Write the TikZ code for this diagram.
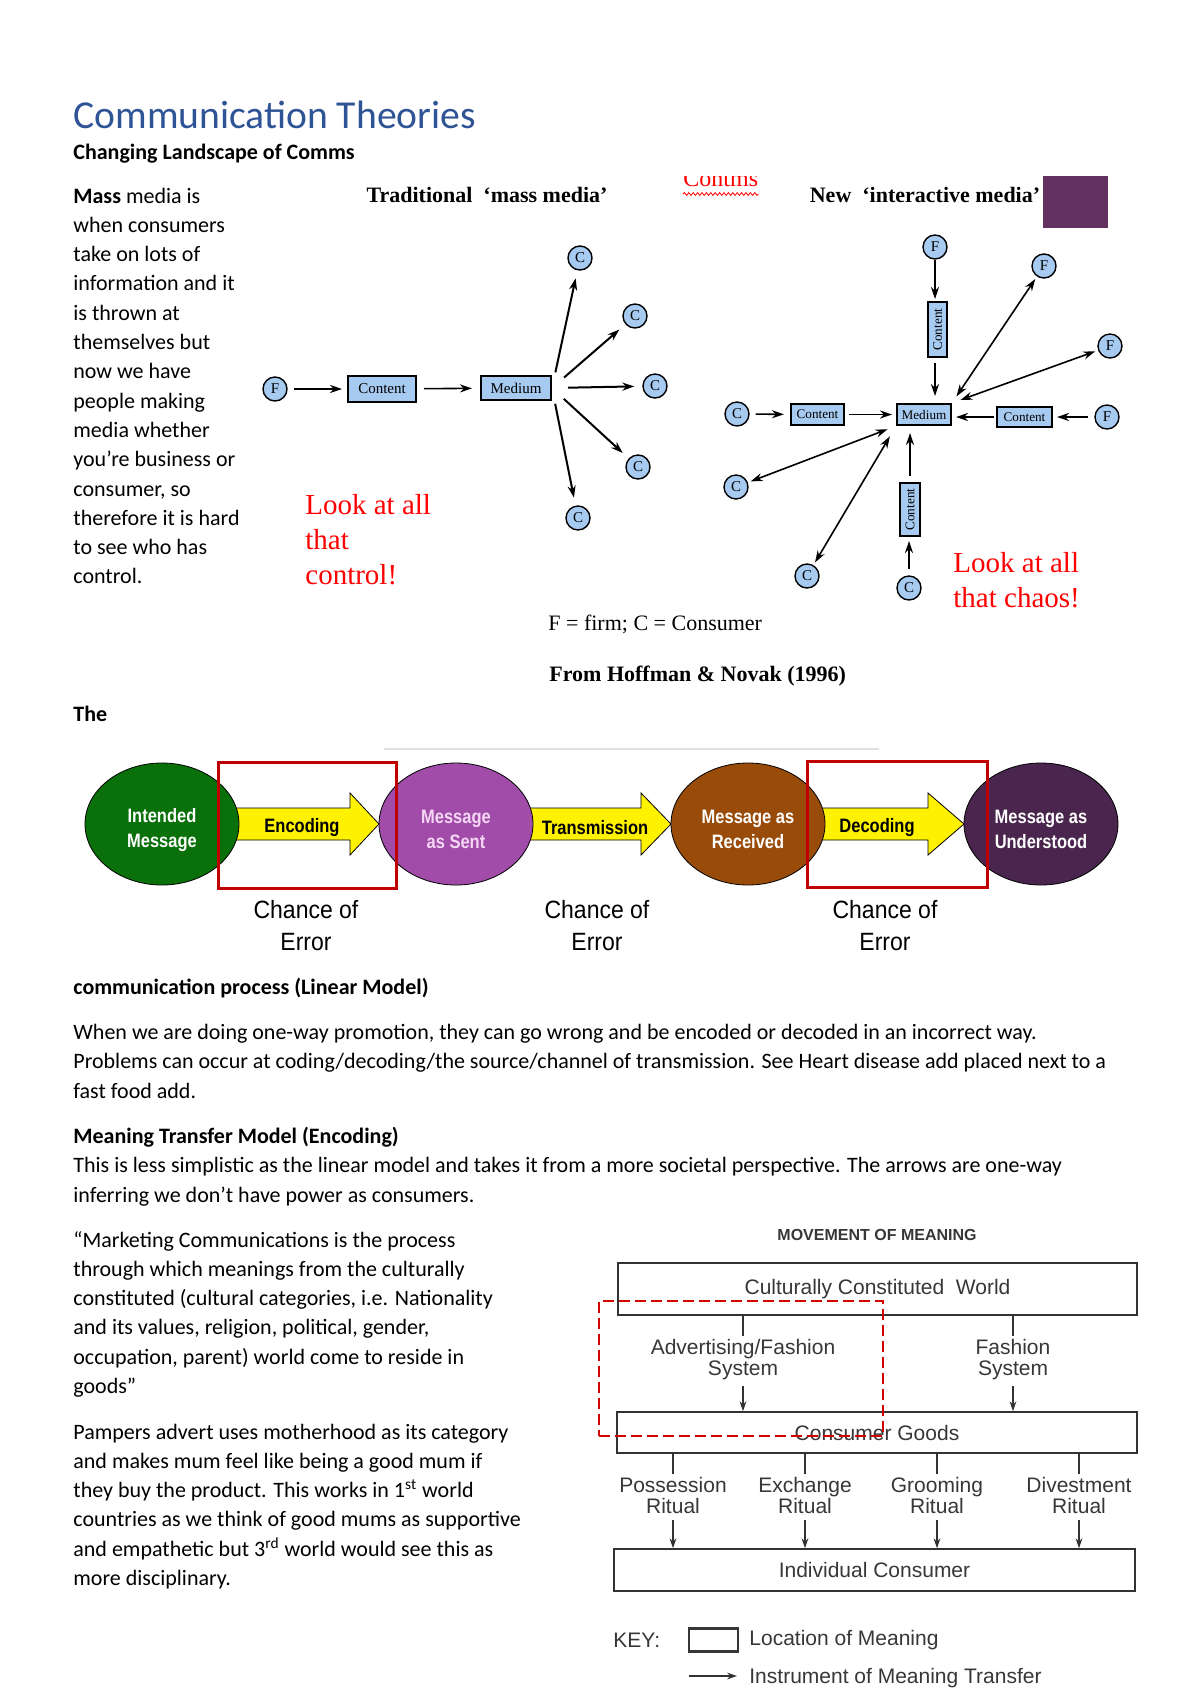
\documentclass[tikz,border=0pt]{standalone}
\usepackage{fontspec}
\setmainfont{Carlito}
\newfontfamily\tms{Liberation Serif}
\newfontfamily\arl{Liberation Sans}
\newfontfamily\arlN[FakeStretch=0.85]{Liberation Sans}
\newfontfamily\arlC[FakeStretch=0.92]{Liberation Sans}
\usetikzlibrary{shapes.geometric,arrows.meta,decorations.pathmorphing}
\definecolor{hblue}{RGB}{166,202,240}
\definecolor{egreen}{RGB}{10,112,10}
\definecolor{epurple}{RGB}{160,76,168}
\definecolor{epink}{RGB}{245,215,245}
\definecolor{ebrown}{RGB}{153,76,10}
\definecolor{edark}{RGB}{74,38,78}
\definecolor{boxred}{RGB}{192,0,0}
\definecolor{tblue}{RGB}{47,84,150}
\definecolor{psq}{RGB}{99,49,96}
\definecolor{mgray}{RGB}{50,50,50}
\definecolor{mtext}{RGB}{55,55,55}
\definecolor{lgray}{RGB}{225,222,230}
\definecolor{dred}{RGB}{210,0,0}
\begin{document}
\begin{tikzpicture}[x=0.5pt,y=-0.5pt,
  txt/.style={anchor=base west, inner sep=0pt, font=\fontsize{11}{13}\selectfont},
  btxt/.style={txt, font=\bfseries\fontsize{11}{13}\selectfont},
  hc/.style={circle, draw=black, line width=0.7pt, fill=hblue, minimum size=12pt, inner sep=0pt, font=\tms\fontsize{7.5}{7.5}\selectfont},
  hb/.style={rectangle, draw=black, line width=1pt, fill=hblue, inner sep=0pt, font=\tms\fontsize{6.6}{6.6}\selectfont},
  har/.style={-{Stealth[length=6pt,width=4pt]}, line width=0.8pt},
  hdar/.style={{Stealth[length=6pt,width=4pt]}-{Stealth[length=6pt,width=4pt]}, line width=0.8pt},
  redtxt/.style={anchor=base west, inner sep=0pt, text=red, font=\tms\fontsize{14.5}{17.5}\selectfont},
  ell/.style={ellipse, draw=black, line width=0.4pt, minimum width=77pt, minimum height=61pt, inner sep=0pt},
  elab/.style={align=center, inner sep=0pt, font=\arlN\bfseries\fontsize{9.7}{12.5}\selectfont, text=white},
  redbox/.style={draw=boxred, line width=1.5pt, inner sep=0pt},
  yarrow/.style={fill=yellow, draw=black, line width=0.4pt},
  alab/.style={inner sep=0pt, font=\arlN\bfseries\fontsize{9.7}{11}\selectfont},
  chance/.style={align=center, inner sep=0pt, font=\arlC\fontsize{12.5}{16}\selectfont},
  mbox/.style={draw=mgray, line width=0.8pt, inner sep=0pt, font=\arl\fontsize{10.5}{10.5}\selectfont, text=mtext},
  mlab/.style={align=center, inner sep=1.5pt, font=\arl\fontsize{10.5}{10.5}\selectfont, text=mtext},
  mline/.style={draw=mgray, line width=0.6pt},
  mar/.style={-{Stealth[length=5pt,width=3.4pt]}, line width=0.6pt, draw=mgray},
  ktxt/.style={anchor=west, inner sep=0pt, font=\arl\fontsize{10.5}{10.5}\selectfont, text=mtext}
]
\useasboundingbox[fill=white] (0,0) rectangle (1200,1698);

% ---------- headings ----------
\node[anchor=base west, inner sep=0pt, text=tblue, font=\fontsize{19.8}{22}\selectfont] (title) at (73,128.5) {Communication Theories};
\node[btxt] (sub) at (73,159) {Changing Landscape of Comms};

% ---------- left paragraph ----------
\foreach \t [count=\i from 0] in {{\textbf{Mass} media is},{when consumers},{take on lots of},{information and it},{is thrown at},{themselves but},{now we have},{people making},{media whether},{you’re business or},{consumer, so},{therefore it is hard},{to see who has},{control.}}
  \node[txt] (lp\i) at (73,{203+29.3*\i}) {\t};

% ---------- Hoffman & Novak: traditional ----------
\node[anchor=base, inner sep=0pt, font=\tms\bfseries\fontsize{11}{13}\selectfont] (trad) at (487,202) {Traditional\ \ ‘mass media’};
\node[hc] (f0) at (275,389) {F};
\node[hb, minimum width=34pt, minimum height=13pt, font=\tms\fontsize{7.5}{7.5}\selectfont] (lcnt) at (382,389) {Content};
\node[hb, minimum width=35pt, minimum height=12pt, font=\tms\fontsize{7.5}{7.5}\selectfont] (lmed) at (516,388) {Medium};
\node[hc] (c1) at (580,258) {C};
\node[hc] (c2) at (635,316) {C};
\node[hc] (c3) at (655,386) {C};
\node[hc] (c4) at (638,467) {C};
\node[hc] (c5) at (578,518) {C};
\draw[har, shorten <=3pt, shorten >=2.5pt] (f0) -- (lcnt);
\draw[har, shorten <=3.5pt, shorten >=4pt] (lcnt) -- (lmed);
\foreach \c in {c1,c2,c3,c4,c5}
  \draw[har, line width=1pt, shorten <=8pt, shorten >=4pt] (lmed.east) -- (\c);
\node[redtxt] (lk1) at (305,514) {Look at all};
\node[redtxt] (lk2) at (305,549) {that};
\node[redtxt] (lk3) at (305,584) {control!};

% ---------- Hoffman & Novak: interactive ----------
\begin{scope}
  \clip (670,176) rectangle (775,200);
  \node[anchor=base west, inner sep=0pt, text=red, font=\tms\fontsize{12}{14}\selectfont] (contms) at (683,186) {Contms};
\end{scope}
\draw[red, line width=0.4pt, decorate, decoration={snake, amplitude=0.7pt, segment length=2.2pt}] ([yshift=-4pt]contms.base west) -- ([yshift=-4pt]contms.base east);
\node[anchor=base, inner sep=0pt, font=\tms\bfseries\fontsize{11}{13}\selectfont] (newi) at (925,202) {New\ \ ‘interactive media’};
\node[fill=psq, minimum width=32.5pt, minimum height=26pt, inner sep=0pt] (sq) at (1075.5,202) {};

\node[hb, minimum width=27pt, minimum height=10.5pt] (rmed) at (924,414.5) {Medium};
\node[hc] (rt) at (935,247) {F};
\node[hb, minimum width=9.5pt, minimum height=27.5pt] (rtc) at (937.5,329.5) {\rotatebox{90}{Content}};
\node[hc] (rf1) at (1044,266) {F};
\node[hc] (rf2) at (1110,346) {F};
\node[hc] (rf3) at (1107,417) {F};
\node[hb, minimum width=27.5pt, minimum height=10pt] (rrc) at (1024.5,417) {Content};
\node[hc] (rc0) at (737,414) {C};
\node[hb, minimum width=26.5pt, minimum height=10.5pt] (rlc) at (817.5,414.5) {Content};
\node[hc] (rc1) at (736,487) {C};
\node[hc] (rc2) at (807,576) {C};
\node[hc] (rc3) at (909,588) {C};
\node[hb, minimum width=10pt, minimum height=26.5pt] (rbc) at (910,509.5) {\rotatebox{90}{Content}};

\draw[har, shorten >=1pt] (rt) -- (rt |- rtc.north);
\draw[har, shorten <=2.5pt, shorten >=3.5pt] (rtc.south -| rt) -- (rt |- rmed.north);
\draw[har, shorten <=3pt, shorten >=2pt] (rf3) -- (rrc);
\draw[har, shorten <=1pt, shorten >=2pt] (rrc.west) -- (rrc.west -| rmed.east);
\draw[har, shorten <=3pt, shorten >=3pt] (rc0) -- (rlc);
\draw[har, shorten <=2pt, shorten >=2pt] (rlc.east) -- (rlc.east -| rmed.west);
\draw[har, shorten <=3pt, shorten >=2pt] (rc3) -- (rc3 |- rbc.south);
\draw[har, shorten <=3pt, shorten >=3.5pt] (rbc.north) -- (rbc.north |- rmed.south);
\draw[hdar, shorten <=4pt, shorten >=1.5pt] (rmed.north east) -- (rf1);
\draw[hdar, shorten <=4.5pt, shorten >=1.5pt] (rmed.north east) -- (rf2);
\draw[hdar, shorten <=4.5pt, shorten >=1.5pt] (rmed.south west) -- (rc1);
\draw[hdar, shorten <=6pt, shorten >=1.5pt] (rmed.south west) -- (rc2);
\node[redtxt] (ch1) at (953,572) {Look at all};
\node[redtxt] (ch2) at (953,607) {that chaos!};

\node[anchor=base west, inner sep=0pt, font=\tms\fontsize{11}{13}\selectfont] (key1) at (548,630) {F = firm; C = Consumer};
\node[anchor=base west, inner sep=0pt, font=\tms\bfseries\fontsize{11}{13}\selectfont] (key2) at (549,681) {From Hoffman \& Novak (1996)};

% ---------- linear model ----------
\node[btxt] (the) at (73,721) {The};
\draw[lgray, line width=0.75pt] (384,749) -- (879,749);

\path[yarrow] (232,808) -- (350,808) -- (350,793) -- (379,824) -- (350,855) -- (350,840) -- (232,840) -- cycle;
\path[yarrow] (527,808) -- (641,808) -- (641,793) -- (671,824) -- (641,855) -- (641,840) -- (527,840) -- cycle;
\path[yarrow] (820,808) -- (928,808) -- (928,793) -- (964,824) -- (928,855) -- (928,840) -- (820,840) -- cycle;
\node[alab] (enc) at (302,828) {Encoding};
\node[alab] (trn) at (595,828) {Transmission};
\node[alab] (dec) at (877,828) {Decoding};

\node[ell, fill=egreen] (e1) at (162,824) {};
\node[ell, fill=epurple] (e2) at (456,824) {};
\node[ell, fill=ebrown] (e3) at (748,824) {};
\node[ell, fill=edark] (e4) at (1041,824) {};
\node[elab] (t1) at ([yshift=-2.8pt]e1.center) {Intended\\Message};
\node[elab, text=epink] (t2) at ([yshift=-2.8pt]e2.center) {Message\\as Sent};
\node[elab] (t3) at ([yshift=-2.8pt]e3.center) {Message as\\Received};
\node[elab] (t4) at ([yshift=-2.8pt]e4.center) {Message as\\Understood};

\node[redbox, minimum width=89pt, minimum height=63pt] (rb1) at (307,825) {};
\node[redbox, minimum width=90pt, minimum height=63pt] (rb2) at (897,824) {};

\node[chance] (ce1) at (306,926) {Chance of\\Error};
\node[chance] (ce2) at (597,926) {Chance of\\Error};
\node[chance] (ce3) at (885,926) {Chance of\\Error};

\node[btxt] (lin) at (73,994) {communication process (Linear Model)};
\foreach \t [count=\i from 0] in {{When we are doing one-way promotion, they can go wrong and be encoded or decoded in an incorrect way.},{Problems can occur at coding/decoding/the source/channel of transmission. See Heart disease add placed next to a},{fast food add.}}
  \node[txt] (w\i) at (73,{1039+29.5*\i}) {\t};
\node[btxt] (mtm) at (73,1143) {Meaning Transfer Model (Encoding)};
\node[txt] (ls0) at (73,1172) {This is less simplistic as the linear model and takes it from a more societal perspective. The arrows are one-way};
\node[txt] (ls1) at (73,1202) {inferring we don’t have power as consumers.};

\foreach \t [count=\i from 0] in {{“Marketing Communications is the process},{through which meanings from the culturally},{constituted (cultural categories, i.e. Nationality},{and its values, religion, political, gender,},{occupation, parent) world come to reside in},{goods”}}
  \node[txt] (q\i) at (73,{1247+29.3*\i}) {\t};
\foreach \t [count=\i from 0] in {{Pampers advert uses motherhood as its category},{and makes mum feel like being a good mum if},{they buy the product. This works in 1\textsuperscript{st} world},{countries as we think of good mums as supportive},{and empathetic but 3\textsuperscript{rd} world would see this as},{more disciplinary.}}
  \node[txt] (pp\i) at (73,{1439+29.3*\i}) {\t};

% ---------- movement of meaning ----------
\node[inner sep=0pt, font=\arl\bfseries\fontsize{8}{8}\selectfont, text=mtext] (mmt) at (877,1235) {MOVEMENT OF MEANING};
\node[mbox, minimum width=259.5pt, minimum height=26pt] (mb1) at (877.5,1289) {\raisebox{-1pt}{Culturally Constituted\ \ World}};
\node[mbox, minimum width=260pt, minimum height=20.5pt] (mb2) at (877,1432.5) {Consumer Goods};
\node[mbox, minimum width=260.5pt, minimum height=21pt] (mb3) at (874.5,1570) {Individual Consumer};

\node[mlab] (adv) at (743,1359.5) {Advertising/Fashion\\System};
\node[mlab] (fas) at (1013,1359.5) {Fashion\\System};
\foreach \n in {adv,fas}{
  \draw[mline] (\n.north |- mb1.south) -- (\n.north);
  \draw[mar, shorten <=1.5pt] (\n.south) -- (\n.south |- mb2.north);
}
\foreach \n/\x/\a in {po/673/Possession, ex/805/Exchange, gr/937/Grooming, di/1079/Divestment}{
  \node[mlab] (\n) at (\x,1495.5) {\a\\Ritual};
  \draw[mline] (\n.north |- mb2.south) -- (\n.north);
  \draw[mar, shorten <=1.5pt] (\n.south) -- (\n.south |- mb3.north);
}

\node[draw=dred, dashed, dash pattern=on 5.5pt off 2.5pt, line width=1.25pt, minimum width=142pt, minimum height=67.5pt, inner sep=0pt] (rdash) at (741,1368.5) {};

\node[ktxt] (key) at (613,1640) {KEY:};
\node[draw=mtext, line width=1.2pt, minimum width=24.5pt, minimum height=11.5pt, inner sep=0pt] (keyb) at (713.5,1640) {};
\node[ktxt] (keyl) at (749,1640) {Location of Meaning};
\coordinate (ka) at (689,1676);
\coordinate (kb) at (737,1676);
\draw[mar] (ka) -- (kb);
\node[ktxt] (keyi) at (749,1678) {Instrument of Meaning Transfer};
\end{tikzpicture}
\end{document}
